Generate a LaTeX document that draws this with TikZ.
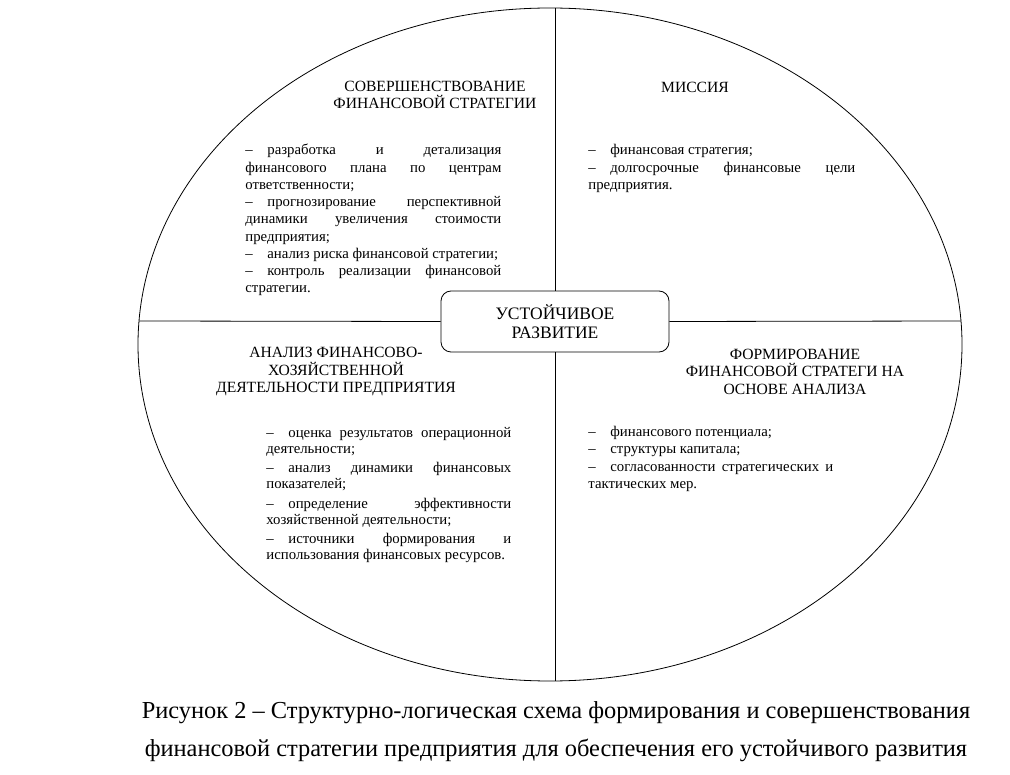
\documentclass[tikz,border=0pt]{standalone}
\usepackage{fontspec}
\setmainfont{Liberation Serif}
\usetikzlibrary{shapes.geometric}
\newcommand\bdash{\makebox[22pt][l]{–}}
\newcommand\jl[1]{\leavevmode\hbox to \hsize{#1}\par}
\newcommand\bodysetup{\setlength\parindent{0pt}\setlength\parskip{0pt}\hyphenpenalty=10000\relax}
\begin{document}
\begin{tikzpicture}[x=1pt,y=-1pt,line width=0.8pt,
  body/.style={anchor=base west,inner sep=0pt,align=justify,
    font=\fontsize{14.8}{17.25}\selectfont,execute at begin node=\bodysetup},
  head/.style={align=center,inner sep=0pt,font=\fontsize{15.6}{17.5}\selectfont},
  hub/.style={draw,rounded corners=10pt,fill=white,minimum width=228pt,minimum height=61pt,
    inner sep=0pt,align=center,font=\fontsize{17.5}{19.5}\selectfont},
  caption/.style={align=center,inner sep=0pt,font=\fontsize{24.4}{38}\selectfont}]
\useasboundingbox (0,0) rectangle (1010,775);
\fill[white] (0,0) rectangle (1010,775);
\node[draw,ellipse,minimum width=824pt,minimum height=673pt,inner sep=0pt] (E) at (550,344.5) {};
\coordinate (T) at (555,8);
\coordinate (B) at (555,681);
\coordinate (L) at (139,321);
\coordinate (R) at (961,321);
\node[hub] (C) at (555,321.5) {УСТОЙЧИВОЕ\\РАЗВИТИЕ};
\draw (L) -- (C.west);
\draw (C.east) -- (R);
\draw (T) -- (C.north);
\draw (C.south) -- (B);
\node[head] (h1) at (435,95) {СОВЕРШЕНСТВОВАНИЕ\\ФИНАНСОВОЙ СТРАТЕГИИ};
\node[head] (h2) at (695,87) {МИССИЯ};
\node[head] (h3) at (336,371.5) {АНАЛИЗ ФИНАНСОВО-\\ХОЗЯЙСТВЕННОЙ\\ДЕЯТЕЛЬНОСТИ ПРЕДПРИЯТИЯ};
\node[head] (h4) at (795,371.5) {ФОРМИРОВАНИЕ\\ФИНАНСОВОЙ СТРАТЕГИ НА\\ОСНОВЕ АНАЛИЗА};
\node[body,text width=256pt] (t1) at (245,155) {%
\jl{\bdash разработка и детализация}
\jl{финансового плана по центрам}
ответственности;\par
\jl{\bdash прогнозирование перспективной}
\jl{динамики увеличения стоимости}
предприятия;\par
\bdash анализ риска финансовой стратегии;\par
\jl{\bdash контроль реализации финансовой}
стратегии.};
\node[body,text width=267pt] (t2) at (588,155) {%
\bdash финансовая стратегия;\par
\jl{\bdash долгосрочные финансовые цели}
предприятия.};
\node[body,text width=245pt,font=\fontsize{14.8}{16}\selectfont] (t3) at (266,437.5) {%
\jl{\bdash оценка результатов операционной}
деятельности;\par\vskip3.5pt
\jl{\bdash анализ динамики финансовых}
показателей;\par\vskip3.5pt
\jl{\bdash определение эффективности}
хозяйственной деятельности;\par\vskip3.5pt
\jl{\bdash источники формирования и}
использования финансовых ресурсов.};
\node[body,text width=245pt,font=\fontsize{14.8}{17.3}\selectfont] (t4) at (588,436.5) {%
\bdash финансового потенциала;\par
\bdash структуры капитала;\par
\jl{\bdash согласованности стратегических и}
тактических мер.};
\node[caption] (cap) at (556,732) {Рисунок 2 – Структурно-логическая схема формирования и совершенствования\\финансовой стратегии предприятия для обеспечения его устойчивого развития};
\end{tikzpicture}
\end{document}
